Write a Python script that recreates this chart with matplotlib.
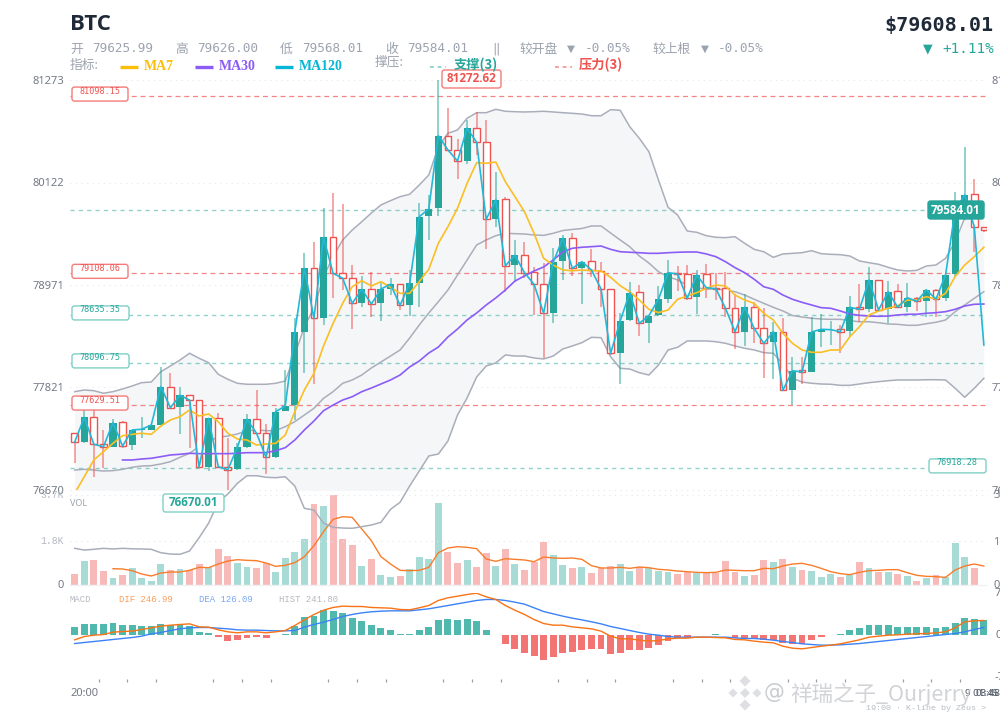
"""BTC K 线图: 主图 + VOL + MACD"""
import matplotlib
matplotlib.use("Agg")
import matplotlib.pyplot as plt
from matplotlib.patches import FancyBboxPatch, Polygon

CJK = ["Noto Sans CJK SC", "DejaVu Sans"]
plt.rcParams["font.family"] = CJK

GREEN = "#26a69a"
RED = "#ef5350"

opens = [77313, 77209, 77486, 77183, 77156, 77430, 77175, 77344, 77345, 77400, 77830, 77605,
         77733, 77680, 76925, 77482, 76932, 76902, 77156, 77464, 77307, 77044, 77553, 77624,
         78447, 79159, 78598, 79514, 79103, 79047, 78766, 78927, 78766, 78927, 78986, 78744,
         78997, 79746, 79833, 80648, 80487, 80367, 80731, 80574, 79711, 79934, 79192, 79308,
         79121, 78979, 78654, 79244, 79496, 79159, 79244, 79132, 78927, 78212, 78579, 78889,
         78541, 78635, 78814, 79110, 79092, 78833, 79092, 78941, 78934, 78710, 78447, 78728,
         78485, 78328, 78447, 77793, 78013, 77991, 78447, 78466, 78477, 78458, 78728, 78702,
         79028, 78699, 78901, 78725, 78829, 78788, 78915, 78822, 79095, 79813, 79990, 79626]
closes = [77209, 77486, 77183, 77156, 77426, 77164, 77344, 77352, 77400, 77830, 77594, 77733,
          77680, 76925, 77475, 76932, 76898, 77149, 77464, 77307, 77037, 77549, 77613, 78447,
          79159, 78598, 79507, 79103, 79047, 78766, 78923, 78758, 78927, 78979, 78744, 78990,
          79738, 79825, 80648, 80487, 80364, 80731, 80574, 79709, 79926, 79188, 79305, 79110,
          78979, 78654, 79226, 79496, 79159, 79233, 79140, 78927, 78205, 78567, 78885, 78541,
          78627, 78811, 79110, 79095, 78822, 79084, 78941, 78930, 78710, 78447, 78721, 78485,
          78317, 78447, 77789, 78009, 77995, 78444, 78474, 78470, 78447, 78721, 78699, 79028,
          78691, 78896, 78721, 78829, 78788, 78915, 78814, 79084, 79813, 79982, 79626, 79584]
highs = [77313, 77568, 77576, 77344, 77467, 77445, 77344, 77486, 77400, 78047, 77980, 77830,
         77733, 77680, 77475, 77538, 77250, 77201, 77523, 77793, 77411, 77594, 78017, 78598,
         79327, 79451, 79839, 80001, 79877, 79196, 79076, 79121, 78994, 79050, 78986, 79140,
         79889, 79982, 81273, 80955, 80607, 80824, 80917, 80824, 80243, 79956, 79477, 79458,
         79177, 79215, 79383, 79533, 79559, 79233, 79372, 79233, 78927, 78661, 79002, 78971,
         78627, 78960, 79252, 79185, 79196, 79140, 79207, 79103, 79114, 78870, 78870, 78784,
         78710, 78559, 78598, 78166, 78160, 78609, 78646, 78571, 78522, 78848, 78979, 79177,
         79028, 79020, 78979, 78990, 78840, 78923, 78927, 79084, 80019, 80517, 80158, 79626]
lows = [76976, 77202, 76813, 76917, 77150, 77141, 77119, 77257, 77340, 77400, 77594, 77295,
        77138, 76925, 76887, 76932, 76670, 76890, 77140, 77307, 76846, 77030, 77553, 77456,
        77987, 77857, 78522, 78829, 78915, 78474, 78721, 78609, 78571, 78859, 78691, 78623,
        78721, 79477, 79746, 80487, 80158, 80327, 80431, 79372, 79626, 78896, 79009, 79047,
        78635, 78152, 78541, 79028, 79073, 78758, 79058, 78728, 78186, 77857, 78571, 78399,
        78317, 78627, 78766, 78908, 78803, 78646, 78822, 78803, 78609, 78250, 78287, 78324,
        77924, 77913, 77789, 77624, 77860, 77991, 78279, 78298, 78205, 78391, 78559, 78665,
        78691, 78548, 78710, 78665, 78683, 78609, 78612, 78790, 79065, 79701, 79345, 79568]
line_end = 78298  # 青线最后一点不落在收盘价上

ma7 = [76633, 76819, 77007, 77100, 77194, 77280, 77295, 77307, 77295, 77388, 77456, 77493,
       77568, 77501, 77523, 77437, 77307, 77243, 77231, 77175, 77186, 77194, 77287, 77549,
       77793, 77980, 78287, 78541, 78766, 78952, 79020, 78960, 79009, 78946, 78878, 78878,
       79009, 79148, 79440, 79626, 79833, 80113, 80345, 80338, 80352, 80131, 79963, 79794,
       79552, 79271, 79196, 79140, 79132, 79140, 79132, 79129, 79058, 78964, 78896, 78803,
       78699, 78661, 78691, 78811, 78848, 78885, 78934, 78971, 78960, 78859, 78803, 78766,
       78654, 78579, 78429, 78317, 78242, 78216, 78216, 78242, 78242, 78391, 78503, 78635,
       78680, 78710, 78739, 78803, 78803, 78840, 78814, 78878, 79065, 79196, 79289, 79395]
ma30 = [None, None, None, None, None, 77007, 77007, 77018, 77026, 77044, 77063, 77071,
        77082, 77078, 77078, 77078, 77078, 77082, 77089, 77089, 77089, 77111, 77145, 77231,
        77344, 77445, 77560, 77624, 77680, 77717, 77774, 77815, 77860, 77905, 77961, 78051,
        78118, 78208, 78275, 78388, 78477, 78579, 78657, 78747, 78826, 78915, 79016, 79073,
        79129, 79174, 79252, 79342, 79384, 79395, 79402, 79409, 79372, 79345, 79339, 79334,
        79327, 79327, 79334, 79339, 79342, 79342, 79320, 79289, 79233, 79166, 79110, 79036,
        78952, 78923, 78859, 78811, 78777, 78747, 78717, 78710, 78680, 78646, 78631, 78623,
        78620, 78623, 78635, 78643, 78643, 78654, 78661, 78672, 78699, 78736, 78755, 78758]
boll_up = [77774, 77793, 77785, 77756, 77774, 77804, 77838, 77875, 77882, 77998, 78062, 78129,
           78205, 78149, 78099, 77969, 77913, 77868, 77857, 77857, 77857, 77868, 77894, 78186,
           78503, 78713, 79065, 79289, 79477, 79589, 79682, 79780, 79870, 79918, 79963, 79990,
           80094, 80206, 80524, 80675, 80712, 80843, 80906, 80906, 80944, 80922, 80917, 80914,
           80917, 80922, 80914, 80906, 80899, 80891, 80872, 80872, 80940, 80933, 80749, 80618,
           80468, 80150, 79844, 79757, 79578, 79563, 79525, 79507, 79503, 79514, 79440, 79372,
           79345, 79282, 79320, 79327, 79334, 79357, 79323, 79316, 79312, 79297, 79241, 79222,
           79204, 79170, 79140, 79129, 79136, 79185, 79196, 79271, 79458, 79724, 79791, 79870]
boll_mid = [76894, 76902, 76894, 76883, 76887, 76902, 76925, 76939, 76943, 76962, 76988, 77037,
            77082, 77156, 77220, 77262, 77276, 77299, 77336, 77344, 77336, 77336, 77381, 77437,
            77512, 77587, 77699, 77774, 77868, 77905, 77961, 78040, 78107, 78174, 78242, 78376,
            78522, 78657, 78784, 78915, 79084, 79252, 79421, 79477, 79525, 79552, 79548, 79544,
            79533, 79529, 79552, 79583, 79595, 79606, 79634, 79634, 79555, 79477, 79401, 79297,
            79218, 79121, 79065, 79028, 78971, 78938, 78927, 78927, 78915, 78896, 78859, 78811,
            78766, 78721, 78680, 78629, 78612, 78598, 78590, 78586, 78586, 78571, 78559, 78559,
            78548, 78534, 78530, 78519, 78519, 78537, 78553, 78579, 78672, 78747, 78822, 78896]
boll_low = [76015, 75996, 76004, 76015, 76008, 76015, 76010, 76008, 76004, 75966, 75951, 75948,
            75985, 76134, 76299, 76535, 76625, 76745, 76830, 76830, 76813, 76808, 76819, 76715,
            76464, 76445, 76299, 76251, 76243, 76240, 76258, 76277, 76307, 76453, 76532, 76715,
            76883, 77052, 77074, 77220, 77512, 77703, 77939, 78062, 78096, 78186, 78174, 78174,
            78152, 78141, 78174, 78253, 78287, 78324, 78384, 78380, 78166, 78036, 78028, 77987,
            77961, 78073, 78242, 78272, 78343, 78343, 78343, 78335, 78317, 78287, 78261, 78242,
            78212, 78205, 78085, 77927, 77882, 77868, 77860, 77857, 77845, 77845, 77860, 77875,
            77886, 77897, 77905, 77905, 77905, 77908, 77908, 77905, 77812, 77711, 77812, 77924]

volumes = [452, 973, 1028, 575, 301, 397, 685, 301, 178, 863, 603, 671,
           617, 863, 726, 1466, 1206, 904, 754, 699, 904, 548, 1123, 1343,
           1877, 3329, 3261, 3699, 1891, 1658, 795, 1069, 425, 315, 356, 644,
           1151, 1082, 3357, 1370, 904, 1014, 754, 1315, 795, 1480, 849, 617,
           959, 1754, 1233, 808, 685, 754, 480, 712, 781, 849, 589, 726,
           712, 575, 521, 466, 521, 480, 507, 507, 1000, 548, 370, 411,
           1028, 945, 1055, 726, 617, 589, 343, 452, 329, 411, 945, 699,
           548, 534, 438, 370, 178, 301, 397, 315, 1712, 1151, 712, 0]
vol_ma = [None, None, None, None, 671, 658, 589, 452, 370, 493, 534, 534,
          603, 726, 712, 863, 986, 1041, 1014, 1000, 904, 767, 808, 918,
          1165, 1617, 2192, 2699, 2809, 2781, 2302, 1822, 1165, 863, 603, 589,
          603, 726, 1329, 1521, 1576, 1548, 1493, 1069, 973, 1082, 1055, 1028,
          959, 1151, 1110, 1096, 1110, 1055, 795, 699, 699, 726, 685, 740,
          712, 644, 617, 575, 548, 521, 507, 521, 617, 603, 589, 589,
          685, 671, 781, 863, 891, 808, 685, 548, 466, 425, 521, 589,
          603, 630, 630, 507, 397, 356, 343, 315, 617, 781, 863, 781]

hist = [127, 190, 190, 179, 202, 167, 161, 150, 144, 184, 167, 173,
        150, 35, 29, -46, -104, -98, -52, -40, -69, -12, 12, 150,
        305, 317, 415, 403, 363, 282, 225, 156, 115, 81, 17, 6,
        81, 127, 242, 276, 253, 271, 230, 75, -12, -161, -248, -317,
        -374, -438, -392, -311, -300, -265, -248, -259, -340, -328, -271, -265,
        -230, -184, -104, -58, -46, -12, -6, 6, -12, -63, -75, -81,
        -92, -98, -144, -156, -167, -98, -40, -12, 12, 75, 104, 161,
        156, 161, 138, 138, 121, 121, 104, 121, 207, 282, 265, 242]
dif = [-92, -35, -12, 0, 40, 52, 58, 86, 115, 144, 161, 173,
       184, 132, 127, 81, 46, 29, 46, 46, 29, 46, 69, 156,
       253, 346, 420, 467, 490, 484, 484, 467, 461, 455, 432, 426,
       461, 501, 588, 634, 662, 691, 714, 651, 605, 501, 420, 346,
       259, 190, 161, 161, 132, 115, 98, 58, -29, -75, -75, -98,
       -115, -104, -75, -63, -63, -46, -46, -52, -58, -86, -92, -115,
       -132, -144, -202, -236, -248, -225, -202, -184, -161, -127, -92, -46,
       -29, -12, -6, 6, 12, 17, 29, 46, 115, 219, 236, 242]
dea = [-156, -138, -121, -104, -86, -69, -52, -29, 12, 35, 69, 98,
       115, 121, 121, 109, 98, 81, 75, 75, 69, 63, 63, 69,
       127, 173, 213, 259, 311, 346, 374, 392, 403, 409, 409, 409,
       426, 444, 472, 501, 530, 559, 588, 605, 605, 588, 559, 524,
       461, 397, 357, 317, 282, 253, 219, 184, 138, 104, 69, 35,
       6, -12, -35, -46, -46, -46, -46, -46, -46, -58, -69, -69,
       -81, -98, -121, -138, -161, -173, -184, -184, -178, -167, -156, -138,
       -121, -104, -86, -69, -52, -35, -17, 0, 17, 46, 86, 121]

resist_levels = [81098.15, 79108.06, 77629.51]
support_levels = [78635.35, 78096.75, 76918.28]
price_line = 79813
price_ticks = [81273, 80122, 78971, 77821, 76670]
vol_ticks = [3700, 1800, 0]
vol_tick_labels = ["3.7K", "1.8K", "0"]
macd_ticks = [717, 0, -717]
time_ticks = [2.5, 5.5, 8.5, 14.5, 17.5, 20.5, 26.5, 29.5, 32.5, 38.5, 41.5, 44.5,
              50.5, 53.5, 56.5, 62.5, 65.5, 68.5, 74.5, 77.5, 80.5, 86.5, 89.5, 92.5]

W, H = 1000, 720
LEFT, RIGHT = 70, 987
X0, DX = 74.7, 9.57  # 第 0 根 K 线中心和间距(像素)


def add_axes_px(fig, top, bottom):
    ax = fig.add_axes([LEFT / W, 1 - bottom / H, (RIGHT - LEFT) / W, (bottom - top) / H])
    ax.set_xlim((LEFT - X0) / DX, (RIGHT - X0) / DX)
    ax.patch.set_alpha(0)
    for s in ax.spines.values():
        s.set_visible(False)
    ax.set_xticks([])
    ax.set_yticks([])
    return ax


def price_y(p):
    return 80 + (price_ticks[0] - p) / (price_ticks[0] - price_ticks[-1]) * 410


fig = plt.figure(figsize=(W / 100, H / 100), dpi=100, facecolor="white")
vax = add_axes_px(fig, 495, 585)
max_ax = add_axes_px(fig, 593, 676)
ax = add_axes_px(fig, 80, 490)
ax.set_zorder(3)
ax.set_ylim(price_ticks[-1], price_ticks[0])
vax.set_ylim(0, 3700)
max_ax.set_ylim(-717, 717)
xs = list(range(len(opens)))

# --- 主图 ---
for p in price_ticks:
    ax.axhline(p, color="#e5e7eb", lw=0.8, ls=(0, (1, 4)), zorder=0, clip_on=False)
ax.fill_between(xs, boll_low, boll_up, color="#f5f6f8", lw=0, zorder=0.5)

for lv in resist_levels:
    ax.axhline(lv, color=RED, alpha=0.7, lw=0.9, ls=(0, (4, 3)), zorder=1)
for lv in support_levels + [price_line]:
    ax.axhline(lv, color=GREEN, alpha=0.5, lw=1.0, ls=(0, (3, 3)), zorder=1)

for name in (boll_up, boll_mid, boll_low):
    ax.plot(xs, name, color="#a9aeba", lw=1.1, zorder=1.5, clip_on=False)

for i in xs:
    up = closes[i] >= opens[i]
    c = GREEN if up else RED
    ax.vlines(i, lows[i], highs[i], color=c, lw=1.1, alpha=0.65, zorder=2)
    lo, hi = min(opens[i], closes[i]), max(opens[i], closes[i])
    if up:
        ax.bar(i, hi - lo, bottom=lo, width=0.74, color=c, lw=0, zorder=3)
    else:
        ax.bar(i, hi - lo, bottom=lo, width=0.7, facecolor="white", edgecolor=c, lw=1.0, zorder=3)

ax.plot(xs, ma30, color="#8b5cf6", lw=1.2, zorder=4)
ax.plot(xs, ma7, color="#fbbf24", lw=1.2, zorder=4.1)
ax.plot(xs, closes[:-1] + [line_end], color="#22b8d8", lw=1.2, zorder=4.2)

# --- 成交量 ---
for t in vol_ticks[:2]:
    vax.axhline(t, color="#e5e7eb", lw=0.8, ls=(0, (1, 4)), clip_on=False)
vax.axhline(0, color="#f0f1f3", lw=1, clip_on=False)
vol_colors = [GREEN if closes[i] >= opens[i] else RED for i in xs]
vax.bar(xs, volumes, width=0.72, color=vol_colors, alpha=0.4, lw=0)
vax.plot(xs, vol_ma, color="#f97c2b", lw=1.0)

# --- MACD ---
max_ax.bar(xs, hist, width=0.72, color=[GREEN if v >= 0 else RED for v in hist], alpha=0.8, lw=0)
max_ax.plot(xs, dea, color="#3b82f6", lw=1.0)
max_ax.plot(xs, dif, color="#f97316", lw=1.0)
for t in time_ticks:
    max_ax.vlines(t, -717 - 6 * 17.3, -717 - 3 * 17.3, color="#9aa0aa", lw=0.9, clip_on=False)

# --- 文字和标签都放在像素坐标的覆盖层 ---
ov = fig.add_axes([0, 0, 1, 1], zorder=10)
ov.set_xlim(0, W)
ov.set_ylim(H, 0)
ov.axis("off")
ov.patch.set_alpha(0)


def txt(x, y, s, color="#9ca3af", size=9, ha="left", family=None, weight="normal", alpha=1.0):
    ov.text(x, y, s, color=color, fontsize=size, ha=ha, va="center",
            family=family or CJK, weight=weight, alpha=alpha)


def tag(x0, x1, y0, y1, color, fill="white", lw=1.0):
    ov.add_patch(FancyBboxPatch((x0 + 2, y0 + 2), x1 - x0 - 4, y1 - y0 - 4,
                                boxstyle="round,pad=2,rounding_size=2.5", fc=fill, ec=color, lw=lw))


MONO = ["DejaVu Sans Mono", "Noto Sans CJK SC"]
LMONO = ["Liberation Mono"]
TICK = "#737985"

txt(70, 24, "BTC", color="#1f2937", size=16, weight="bold", family=["Open Sans"])
txt(993, 26, "$79608.01", color="#1f2937", size=14.5, ha="right", weight="bold", family=MONO)
for x0, name, x1, val in [(70, "开", 92, "79625.99"), (175, "高", 197, "79626.00"),
                          (280, "低", 302, "79568.01"), (385, "收", 407, "79584.01")]:
    txt(x0, 49, name, size=9.2)
    txt(x1, 49, val, size=9.1, family=MONO)
txt(492, 49, "‖", size=9.1, family=MONO)
txt(519, 49, "较开盘", size=9.2)
txt(567, 49, "▼", size=7.5, family=["DejaVu Sans"])
txt(585, 49, "-0.05%", size=9.1, family=MONO)
txt(652, 49, "较上根", size=9.2)
txt(701, 49, "▼", size=7.5, family=["DejaVu Sans"])
txt(718, 49, "-0.05%", size=9.1, family=MONO)
txt(923, 49, "▼", color=GREEN, size=9, family=["DejaVu Sans"])
txt(994, 49, "+1.11%", color=GREEN, size=10.3, ha="right", family=MONO)

txt(70, 65, "指标:", size=9.2)
for x0, color, name in [(120, "#fbbf0b", "MA7"), (195, "#8b5cf6", "MA30"), (275, "#06b6d4", "MA120")]:
    ov.plot([x0, x0 + 18], [67, 67], color=color, lw=2.4, solid_capstyle="butt")
    txt(x0 + 24, 66, name, color=color, size=10, weight="bold", family=["Liberation Serif"])
txt(375, 62, "撑压:", size=9.2)
ov.plot([430, 446], [67, 67], color=GREEN, alpha=0.6, lw=1.1, ls=(0, (2.5, 2.5)))
txt(454, 65, "支撑(3)", color=GREEN, size=9.5, weight="bold")
ov.plot([555, 572], [67, 67], color=RED, alpha=0.7, lw=1.1, ls=(0, (2.5, 2.5)))
txt(579, 65, "压力(3)", color=RED, size=9.5, weight="bold")

# 左右价格刻度
for p in price_ticks:
    txt(64, price_y(p) + 1, str(p), color=TICK, size=8, ha="right", family=["Noto Sans"])
    txt(992, price_y(p) + 1, str(p), color=TICK, size=8, family=["Noto Sans"])
for t, lab in zip(vol_ticks, vol_tick_labels):
    y = 585 - t / 3700 * 90
    if lab == "0":
        txt(64, y + 1, lab, color=TICK, size=8, ha="right", family=["Noto Sans"])
    else:
        txt(64, y, lab, color="#b4b8c0", size=7, ha="right", family=LMONO)
    txt(993, y + 1, lab, color=TICK, size=8, family=["Noto Sans"])
for t in macd_ticks:
    txt(995, 634.5 - t / 717 * 41.5 + 1, str(t), color=TICK, size=8, family=["Noto Sans"])

# 水平位标签
for lv in resist_levels:
    y = price_y(lv)
    tag(72, 128, y - 8.5, y + 5.5, "#f47c7a")
    txt(100, y - 4.5, f"{lv:.2f}", color=RED, size=6.1, ha="center", family=MONO)
for lv in support_levels:
    y = price_y(lv)
    x0 = 929 if lv < 77000 else 72
    tag(x0, x0 + 57, y - 9, y + 5, "#7fcfc7")
    txt(x0 + 28, y - 5, f"{lv:.2f}", color=GREEN, size=6.1, ha="center", family=MONO)

tag(442, 501, 70, 88, "#f47c7a")
txt(471.5, 79, "81272.62", color=RED, size=8.4, ha="center", weight="bold", family=["Open Sans"])
tag(163, 224, 494, 512, "#7fcfc7")
txt(193.5, 503, "76670.01", color=GREEN, size=8.4, ha="center", weight="bold", family=["Open Sans"])
tag(928, 984, 201, 219, GREEN, fill=GREEN)
txt(956, 210, "79584.01", color="white", size=8.4, ha="center", weight="bold", family=["Open Sans"])

# 副图标题
txt(70, 504, "VOL", color="#9ca3af", size=6.5, family=["Noto Sans"])
txt(70, 599, "MACD", color="#b4b8c0", size=6.4, family=LMONO)
txt(119, 599, "DIF 246.99", color="#f97316", size=6.4, family=LMONO, alpha=0.7)
txt(199, 599, "DEA 126.09", color="#3b82f6", size=6.4, family=LMONO, alpha=0.7)
txt(279, 599, "HIST 241.80", color="#b4b8c0", size=6.4, family=LMONO)

# 时间轴
txt(70, 694, "20:00", color=TICK, size=8, family=["Noto Sans"])
txt(965, 694, "9 01:45", color="#4b5563", size=7, family=["Noto Sans"])
txt(976, 694, "03:48", color="#4b5563", size=7, family=["Noto Sans"])

# 水印
for cx, cy, r in [(745, 693, 5), (733, 693, 4.5), (757, 693, 4.5), (745, 681, 5.5), (745, 705, 5.5)]:
    ov.add_patch(Polygon([(cx, cy - r), (cx + r, cy), (cx, cy + r), (cx - r, cy)],
                         fc="#d5d7db", ec="none", alpha=0.8))
txt(764, 692, "@", color="#c9ccd1", size=15, family=["DejaVu Sans"])
txt(790, 694, "祥瑞之子_Ourjerry", color="#c9ccd1", size=15.5, family=CJK, alpha=0.85)
txt(866, 709, "19:00 · K-line by Zeus >", color="#b8bcc4", size=6, family=LMONO)

fig.savefig("out.png", dpi=100)
